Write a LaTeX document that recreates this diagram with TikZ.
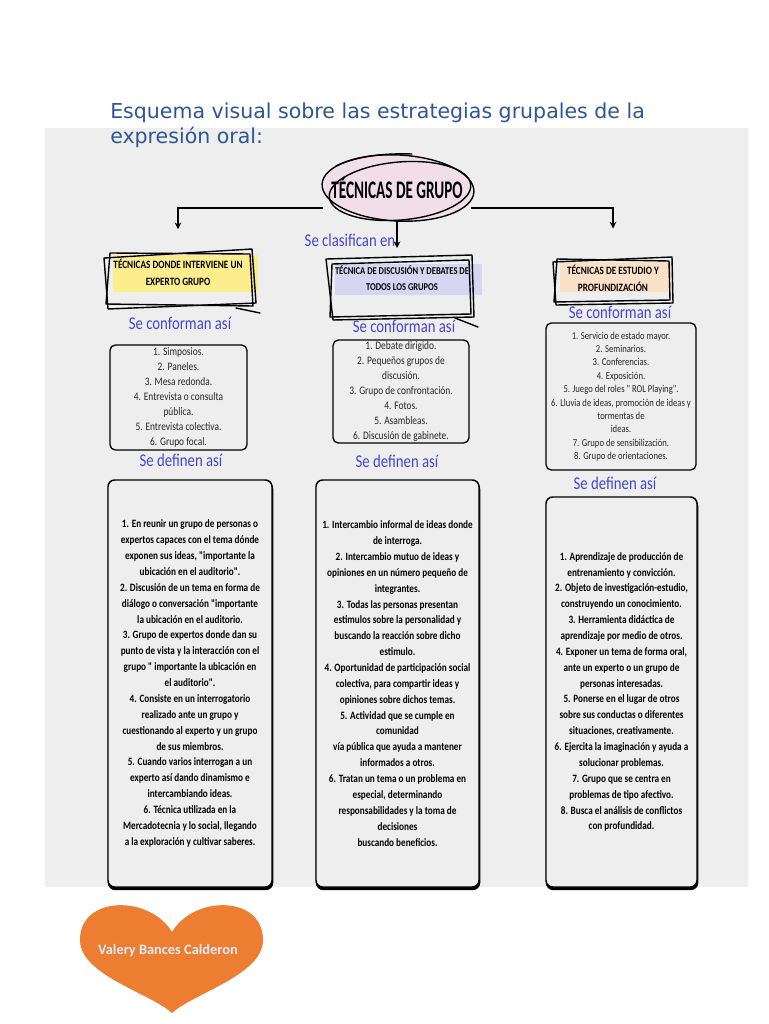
\documentclass[tikz,border=0pt]{standalone}
\usepackage{fontspec}
\setmainfont{Carlito}
\newfontfamily\titlefont{DejaVu Sans}
\newfontfamily\condfont[FakeStretch=0.82]{Carlito}
\newfontfamily\bigcond[FakeStretch=0.6]{Carlito}
\usetikzlibrary{arrows.meta,shapes.geometric,shadows}
\definecolor{panel}{RGB}{238,238,238}
\definecolor{titleblue}{RGB}{47,85,151}
\definecolor{lblue}{RGB}{70,70,205}
\definecolor{pinkfill}{RGB}{242,222,230}
\definecolor{yellowhl}{RGB}{252,238,140}
\definecolor{lavhl}{RGB}{214,214,242}
\definecolor{peachhl}{RGB}{251,224,200}
\definecolor{heartcol}{RGB}{237,125,49}
\definecolor{hearttext}{RGB}{221,235,247}
\newdimen\px \px=0.75pt
\tikzset{
  lbl/.style={text=lblue, font=\condfont\fontsize{13.5}{16}\selectfont, inner sep=0pt},
  listbox/.style={draw=black, line width=1pt, rounded corners=4pt, fill=panel, align=center, text=black!85, inner sep=0pt},
  defbox/.style={draw=black, line width=1.1pt, rounded corners=5pt, fill=panel, align=center, inner sep=0pt,
     font=\condfont\bfseries\fontsize{8.4}{11.9}\selectfont,
     copy shadow={shadow xshift=0.4pt, shadow yshift=-1.8pt, fill=black, draw=black}},
  head/.style={align=center, font=\condfont\bfseries\fontsize{8.4}{12.75}\selectfont, inner sep=0pt},
  conn/.style={line width=1.5pt, -{Stealth[length=5pt,width=5pt]}},
  sketch/.style={line width=1.05pt, black, line join=round, line cap=round},
}
\begin{document}
\begin{tikzpicture}[x=0.75pt,y=-0.75pt]
\useasboundingbox (0,0) rectangle (768,1024);
\fill[white] (0,0) rectangle (768,1024);
\fill[panel] (45,128) rectangle (748,887);

% title
\node[anchor=base west, inner sep=0pt, text=titleblue, font=\titlefont\fontsize{15.4}{18}\selectfont] (title1) at (110,118) {Esquema visual sobre las estrategias grupales de la};
\node[anchor=base west, inner sep=0pt, text=titleblue, font=\titlefont\fontsize{15.4}{18}\selectfont] (title2) at (110,143) {expresión oral:};

% top ellipse
\fill[pinkfill, rotate around={-3:(398,188)}] (398,188) ellipse [x radius=74\px, y radius=32\px];
\draw[sketch, rotate around={-3:(398,188)}] (398,188) ellipse [x radius=76\px, y radius=33\px];
\draw[sketch, rotate around={5:(400,191)}] (400,191) ellipse [x radius=71\px, y radius=29\px];
\draw[sketch] (336,166) .. controls (355,157) and (380,153) .. (412,154);
\node[inner sep=0pt, minimum width=150\px, minimum height=66\px, ellipse, font=\bigcond\bfseries\fontsize{19}{22}\selectfont] (top) at (397,188) {TÉCNICAS DE GRUPO};

% headers: highlights
\fill[yellowhl] (113,255) rectangle (258,292);
\fill[lavhl] (335,264) rectangle (482,295);
\fill[peachhl] (560,262) rectangle (672,292);

% sketch outlines left
\draw[sketch] (104,258) -- (252,249) -- (256,303) -- (108,309) -- cycle;
\draw[sketch] (110,253) -- (250,254) -- (253,306) -- (106,304) -- cycle;
\draw[sketch] (236,308) -- (260,313);
% sketch outlines middle
\draw[sketch] (326,259) -- (472,255) -- (474,317) -- (333,320) -- cycle;
\draw[sketch] (332,264) -- (469,260) -- (471,314) -- (330,317) -- cycle;
\draw[sketch] (455,318) -- (478,327);
% sketch outlines right
\draw[sketch] (553,262) -- (672,257) -- (673,303) -- (556,305) -- cycle;
\draw[sketch] (557,259) -- (669,261) -- (670,300) -- (554,302) -- cycle;

\node[head] (h1) at (178,272) {TÉCNICAS DONDE INTERVIENE UN\\EXPERTO GRUPO};
\node[head, font=\condfont\bfseries\fontsize{7.8}{12}\selectfont] (h2) at (402,278) {TÉCNICA DE DISCUSIÓN Y DEBATES DE\\TODOS LOS GRUPOS};
\node[head] (h3) at (613,278) {TÉCNICAS DE ESTUDIO Y\\PROFUNDIZACIÓN};

% connectors
\draw[conn, shorten >=22pt] (top.195) -| (h1.north);
\draw[conn, shorten >=27pt] (top.-15) -| (h3.north);
\draw[conn, shorten >=13pt] (top.south) -- (top.south |- h2.north);

\node[lbl] (clas) at (350,240) {Se clasifican en};

% labels
\node[lbl] (c1) at (180,323) {Se conforman así};
\node[lbl] (c2) at (404,326) {Se conforman así};
\node[lbl] (c3) at (620,312) {Se conforman así};
\node[lbl] (s1) at (181,460) {Se definen así};
\node[lbl] (s2) at (397,461) {Se definen así};
\node[lbl] (s3) at (615,483) {Se definen así};

% list boxes
\node[listbox, minimum width=137\px, minimum height=105\px, font=\condfont\fontsize{8.6}{11.25}\selectfont] (l1) at (178.5,397.5)
  {1. Simposios.\\2. Paneles.\\3. Mesa redonda.\\4. Entrevista o consulta\\pública.\\5. Entrevista colectiva.\\6. Grupo focal.};
\node[listbox, minimum width=136\px, minimum height=103\px, font=\condfont\fontsize{8.6}{11.25}\selectfont] (l2) at (401,391.5)
  {1. Debate dirigido.\\2. Pequeños grupos de\\discusión.\\3. Grupo de confrontación.\\4. Fotos.\\5. Asambleas.\\6. Discusión de gabinete.};
\node[listbox, minimum width=150\px, minimum height=147\px, font=\condfont\fontsize{7.9}{10.05}\selectfont] (l3) at (621,396.5)
  {1. Servicio de estado mayor.\\2. Seminarios.\\3. Conferencias.\\4. Exposición.\\5. Juego del roles " ROL Playing".\\6. Lluvia de ideas, promoción de ideas y\\tormentas de\\ideas.\\7. Grupo de sensibilización.\\8. Grupo de orientaciones.};

% definition boxes
\node[defbox, minimum width=164\px, minimum height=407\px] (d1) at (190,683.5)
  {1. En reunir un grupo de personas o\\expertos capaces con el tema dónde\\exponen sus ideas, "importante la\\ubicación en el auditorio".\\2. Discusión de un tema en forma de\\diálogo o conversación "importante\\la ubicación en el auditorio.\\3. Grupo de expertos donde dan su\\punto de vista y la interacción con el\\grupo " importante la ubicación en\\el auditorio".\\4. Consiste en un interrogatorio\\realizado ante un grupo y\\cuestionando al experto y un grupo\\de sus miembros.\\5. Cuando varios interrogan a un\\experto así dando dinamismo e\\intercambiando ideas.\\6. Técnica utilizada en la\\Mercadotecnia y lo social, llegando\\a la exploración y cultivar saberes.};
\node[defbox, minimum width=163\px, minimum height=407\px] (d2) at (397.5,683.5)
  {1. Intercambio informal de ideas donde\\de interroga.\\2. Intercambio mutuo de ideas y\\opiniones en un número pequeño de\\integrantes.\\3. Todas las personas presentan\\estimulos sobre la personalidad y\\buscando la reacción sobre dicho\\estimulo.\\4. Oportunidad de participación social\\colectiva, para compartir ideas y\\opiniones sobre dichos temas.\\5. Actividad que se cumple en\\comunidad\\vía pública que ayuda a mantener\\informados a otros.\\6. Tratan un tema o un problema en\\especial, determinando\\responsabilidades y la toma de\\decisiones\\buscando beneficios.};
\node[defbox, minimum width=151\px, minimum height=390\px] (d3) at (621.5,692)
  {1. Aprendizaje de producción de\\entrenamiento y convicción.\\2. Objeto de investigación-estudio,\\construyendo un conocimiento.\\3. Herramienta didáctica de\\aprendizaje por medio de otros.\\4. Exponer un tema de forma oral,\\ante un experto o un grupo de\\personas interesadas.\\5. Ponerse en el lugar de otros\\sobre sus conductas o diferentes\\situaciones, creativamente.\\6. Ejercita la imaginación y ayuda a\\solucionar problemas.\\7. Grupo que se centra en\\problemas de tipo afectivo.\\8. Busca el análisis de conflictos\\con profundidad.};

% heart
\fill[heartcol] (172,932) .. controls (150,895) and (80,895) .. (80,940)
  .. controls (80,975) and (150,993) .. (172,1013)
  .. controls (194,993) and (263,975) .. (263,940)
  .. controls (263,895) and (194,895) .. (172,932) -- cycle;
\node[inner sep=0pt, text=hearttext, font=\bfseries\fontsize{10.8}{12}\selectfont] (name) at (168,951) {Valery Bances Calderon};
\end{tikzpicture}
\end{document}
